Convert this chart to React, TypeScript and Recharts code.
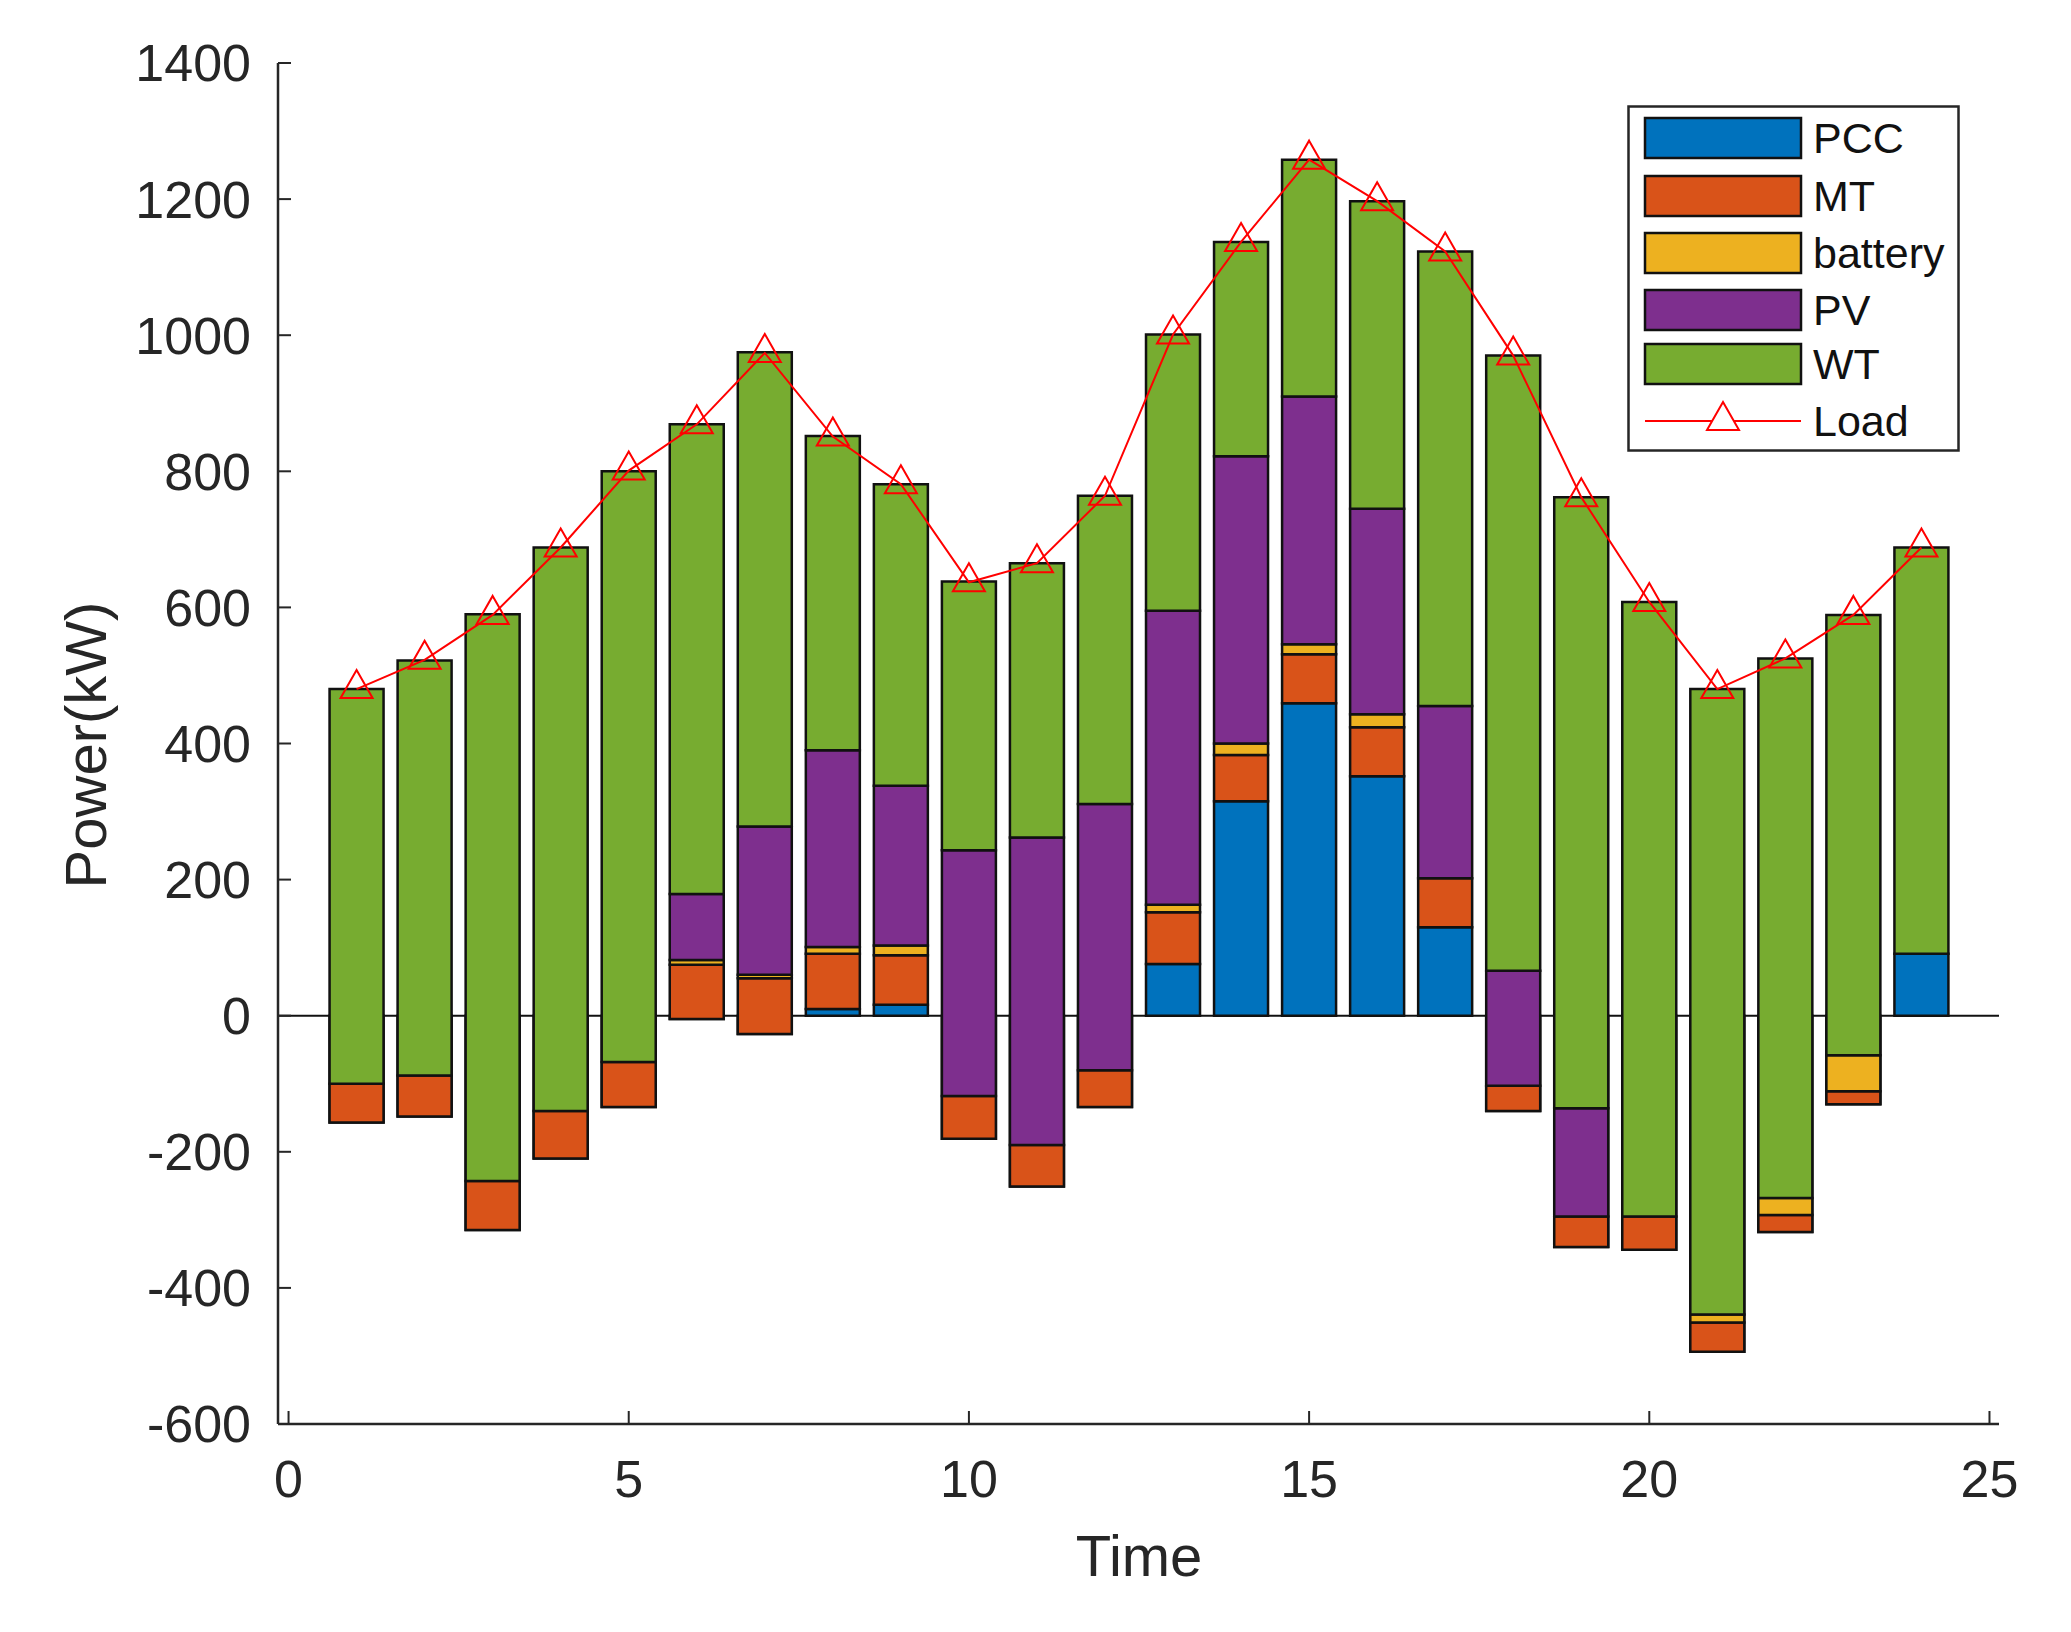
import React from "react";
import { Bar, CartesianGrid, ComposedChart, Line, XAxis, YAxis } from "recharts";

// hourly dispatch, kW (stacked cumulatively like MATLAB's bar(...,'stacked'))
const hours = [1, 2, 3, 4, 5, 6, 7, 8, 9, 10, 11, 12, 13, 14, 15, 16, 17, 18, 19, 20, 21, 22, 23, 24];
const pcc = [-157, -148, -315, -210, -134, -5, -27, 10, 16, -181, -251, -134, 76, 315, 459, 352, 130, -140, -340, -344, -494, -318, -130, 91];
const mt = [57, 60, 72, 70, 66, 80, 82, 81, 73, 63, 61, 54, 76, 68, 72, 72, 72, 37, 45, 49, 43, 25, 19, 0];
const battery = [0, 0, 0, 0, 0, 7, 5, 10, 14, 0, 0, 0, 11, 17, 15, 19, 0, 0, 0, 0, 12, 25, 53, 0];
const pv = [0, 0, 0, 0, 0, 97, 218, 289, 235, 361, 452, 391, 432, 422, 364, 302, 253, 169, 159, 0, 0, 0, 0, 0];
const wt = [580, 610, 833, 828, 868, 690, 697, 462, 443, 395, 403, 453, 406, 315, 348, 452, 668, 904, 898, 903, 919, 793, 647, 597];
const load = [480, 523, 589, 688, 801, 869, 974, 851, 781, 637, 665, 764, 1001, 1137, 1258, 1197, 1123, 970, 762, 608, 480, 525, 589, 688];

const xTicks = [0, 5, 10, 15, 20, 25];
const yTicks = [-600, -400, -200, 0, 200, 400, 600, 800, 1000, 1200, 1400];

const seriesList = [
  { key: "pcc", label: "PCC", fill: "#0072BD" },
  { key: "mt", label: "MT", fill: "#D95319" },
  { key: "battery", label: "battery", fill: "#EDB120" },
  { key: "pv", label: "PV", fill: "#7E2F8E" },
  { key: "wt", label: "WT", fill: "#77AC30" }
];

const data = hours.map((hour, i) => ({
  hour,
  pcc: pcc[i],
  mt: mt[i],
  battery: battery[i],
  pv: pv[i],
  wt: wt[i],
  load: load[i]
}));

const FONT = "'Liberation Sans', Arial, Helvetica, sans-serif";
const INK = "#262626";
const xDomain: [number, number] = [-0.155, 25.14];
const yDomain: [number, number] = [-600, 1400];
const tickStyle = { fontSize: 52, fill: INK, fontFamily: FONT };

function TriangleDot(props: any) {
  const { cx, cy, index } = props;
  if (cx == null || cy == null) return null;
  return (
    <path
      key={`tri-${index}`}
      d={`M${cx},${cy - 19} L${cx + 16},${cy + 9} L${cx - 16},${cy + 9} Z`}
      fill="none"
      stroke="#FF0000"
      strokeWidth={2}
    />
  );
}

function LegendBox() {
  const rows = [33, 91, 148, 205, 259, 316];
  return (
    <svg
      width={334}
      height={348}
      style={{ position: "absolute", left: 1627, top: 105, fontFamily: FONT }}
    >
      <rect x={1.5} y={1.5} width={330} height={344} fill="#fff" stroke={INK} strokeWidth={2.5} />
      {seriesList.map((s, i) => (
        <g key={s.key}>
          <rect x={18} y={rows[i] - 20} width={156} height={40} fill={s.fill} stroke="#111" strokeWidth={2.5} />
          <text x={186} y={rows[i]} dominantBaseline="central" fontSize={43} fill="#111">
            {s.label}
          </text>
        </g>
      ))}
      <line x1={18} x2={174} y1={rows[5]} y2={rows[5]} stroke="#FF0000" strokeWidth={2} />
      <path
        d={`M96,${rows[5] - 19} L112,${rows[5] + 9} L80,${rows[5] + 9} Z`}
        fill="#fff"
        stroke="#FF0000"
        strokeWidth={2}
      />
      <text x={186} y={rows[5]} dominantBaseline="central" fontSize={43} fill="#111">
        Load
      </text>
    </svg>
  );
}

export default function App() {
  return (
    <div style={{ position: "absolute", left: 0, top: 0, width: 2071, height: 1632, background: "#fff" }}>
      <ComposedChart
        width={2071}
        height={1632}
        data={data}
        stackOffset="none"
        margin={{ top: 63, right: 72, bottom: 88, left: 78 }}
        style={{ fontFamily: FONT }}
      >
        <CartesianGrid horizontal vertical={false} horizontalValues={[0]} stroke="#111" strokeWidth={2} />
        <XAxis
          dataKey="hour"
          type="number"
          domain={xDomain}
          ticks={xTicks}
          allowDataOverflow
          height={120}
          tickSize={-13}
          tickMargin={49}
          tick={tickStyle}
          tickLine={{ stroke: INK, strokeWidth: 2 }}
          axisLine={{ stroke: INK, strokeWidth: 2.5 }}
          label={() => (
            <text x={1139} y={1555} textAnchor="middle" dominantBaseline="central" fontSize={58} fill={INK} fontFamily={FONT}>
              Time
            </text>
          )}
        />
        <XAxis
          xAxisId="top"
          orientation="top"
          type="number"
          domain={xDomain}
          ticks={xTicks}
          allowDataOverflow
          height={0}
          tickSize={-13}
          tickFormatter={() => ""}
          tickLine={{ stroke: INK, strokeWidth: 2 }}
          axisLine={{ stroke: INK, strokeWidth: 2.5 }}
        />
        <YAxis
          type="number"
          domain={yDomain}
          ticks={yTicks}
          allowDataOverflow
          width={200}
          tickSize={-13}
          tickMargin={40}
          tick={tickStyle}
          tickLine={{ stroke: INK, strokeWidth: 2 }}
          axisLine={{ stroke: INK, strokeWidth: 2.5 }}
          label={() => (
            <text
              x={85}
              y={745}
              transform="rotate(-90 85 745)"
              textAnchor="middle"
              dominantBaseline="central"
              fontSize={58}
              fill={INK}
              fontFamily={FONT}
            >
              Power(kW)
            </text>
          )}
        />
        <YAxis
          yAxisId="right"
          orientation="right"
          type="number"
          domain={yDomain}
          ticks={yTicks}
          allowDataOverflow
          width={0}
          tickSize={-13}
          tickFormatter={() => ""}
          tickLine={{ stroke: INK, strokeWidth: 2 }}
          axisLine={{ stroke: INK, strokeWidth: 2.5 }}
        />

        {seriesList.map((s) => (
          <Bar
            key={s.key}
            dataKey={s.key}
            name={s.label}
            stackId="dispatch"
            barSize={54}
            fill={s.fill}
            stroke="#111"
            strokeWidth={2.5}
            isAnimationActive={false}
          />
        ))}

        <Line
          dataKey="load"
          name="Load"
          type="linear"
          stroke="#FF0000"
          strokeWidth={2}
          dot={TriangleDot}
          activeDot={false}
          isAnimationActive={false}
        />
      </ComposedChart>
      <LegendBox />
    </div>
  );
}
